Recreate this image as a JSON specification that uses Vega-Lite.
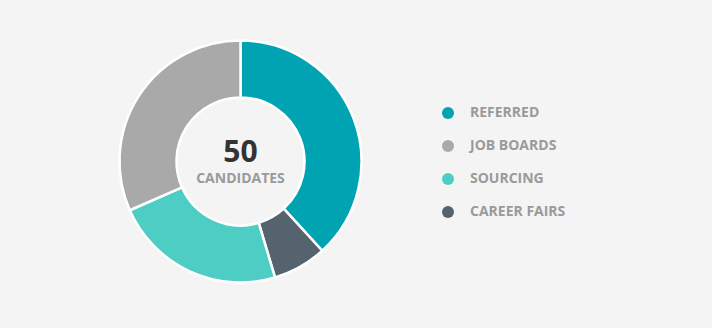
{
  "$schema": "https://vega.github.io/schema/vega-lite/v6.json",
  "width": 481,
  "height": 323,
  "autosize": {"type": "none"},
  "padding": {"left": 0, "top": 0, "right": 231, "bottom": 5},
  "background": "#f4f4f4",
  "config": {"view": {"stroke": null}, "font": "Open Sans"},
  "layer": [
    {
      "data": {"values": [
        {"source": "REFERRED", "count": 19.1, "ord": 1},
        {"source": "CAREER FAIRS", "count": 3.6, "ord": 2},
        {"source": "SOURCING", "count": 11.5, "ord": 3},
        {"source": "JOB BOARDS", "count": 15.8, "ord": 4}
      ]},
      "mark": {"type": "arc", "outerRadius": 121, "innerRadius": 64, "stroke": "#ffffff", "strokeWidth": 2.5},
      "encoding": {
        "theta": {"field": "count", "type": "quantitative", "stack": true},
        "order": {"field": "ord", "type": "quantitative"},
        "color": {
          "field": "source",
          "type": "nominal",
          "scale": {
            "domain": ["REFERRED", "JOB BOARDS", "SOURCING", "CAREER FAIRS"],
            "range": ["#00a3b1", "#a9a9a9", "#4ecdc4", "#55636f"]
          },
          "legend": {
            "title": null,
            "orient": "none",
            "legendX": 441,
            "legendY": 106,
            "symbolType": "circle",
            "symbolSize": 144,
            "symbolStrokeWidth": 0,
            "labelFont": "Open Sans",
            "labelFontSize": 14,
            "labelFontWeight": "bold",
            "labelColor": "#9a9a9a",
            "labelOffset": 15,
            "rowPadding": 19
          }
        }
      }
    },
    {
      "data": {"values": [{"t": "50"}]},
      "mark": {"type": "text", "font": "Open Sans", "fontSize": 30, "fontWeight": "bold", "color": "#333333", "baseline": "alphabetic", "align": "center", "dy": 0},
      "encoding": {"text": {"field": "t"}}
    },
    {
      "data": {"values": [{"t": "CANDIDATES"}]},
      "mark": {"type": "text", "font": "Open Sans", "fontSize": 14, "fontWeight": "bold", "color": "#9a9a9a", "baseline": "alphabetic", "align": "center", "dy": 21},
      "encoding": {"text": {"field": "t"}}
    }
  ]
}
